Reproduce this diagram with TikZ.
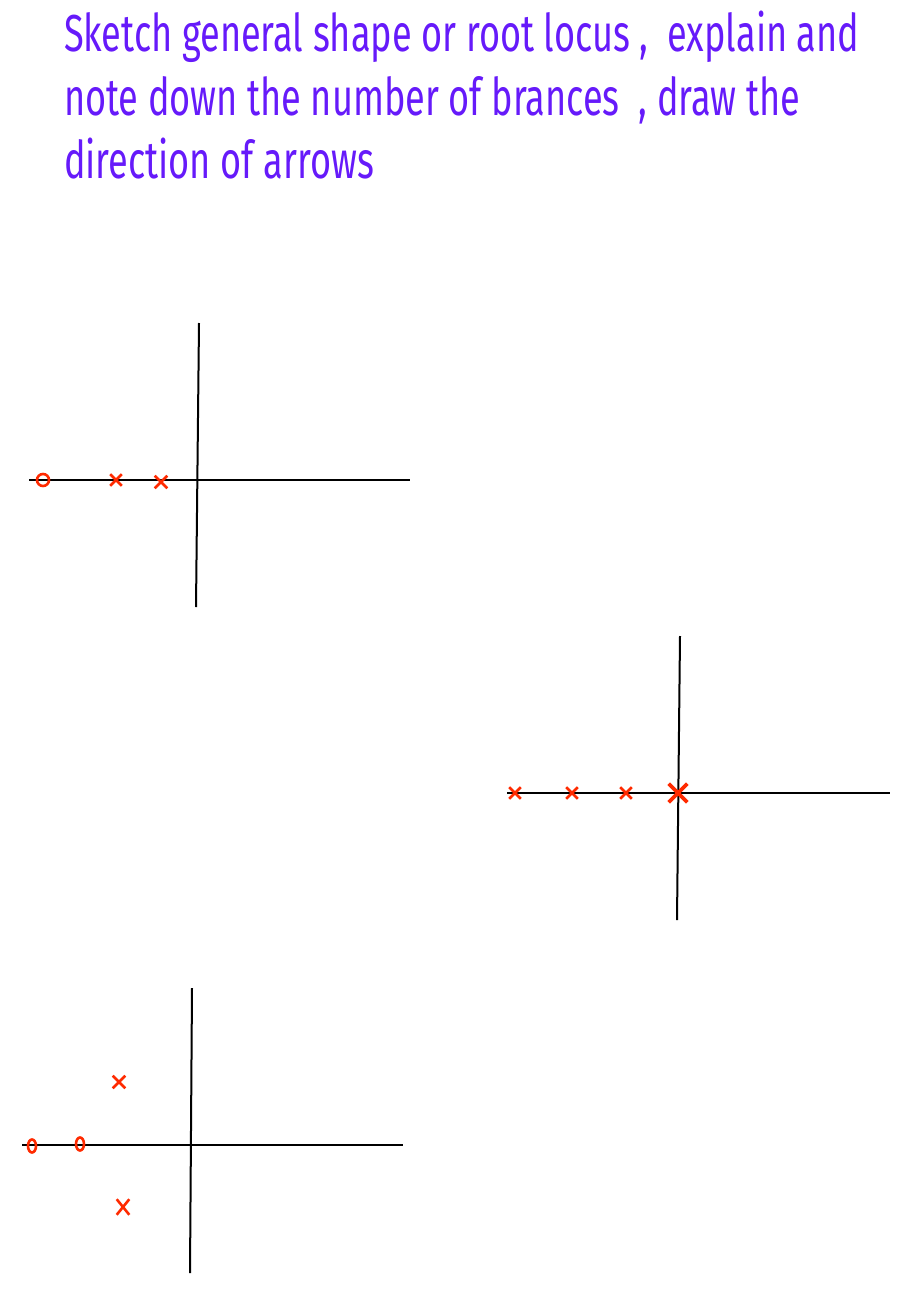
\documentclass[tikz,border=0pt]{standalone}
\usepackage{fontspec}
\setmainfont[FakeStretch=0.695]{Fira Sans}
\usetikzlibrary{shapes.misc,shapes.geometric}
\definecolor{titleviolet}{RGB}{102,26,250}
\definecolor{locusred}{RGB}{255,42,0}

\tikzset{every picture/.style={line width=2pt}}
\tikzset{
  axisline/.style={draw=black, line width=2pt},
  titleline/.style={anchor=base west, inner sep=0pt, text=titleviolet, font=\fontsize{52}{63}\selectfont},
  pole/.style={cross out, draw=locusred, line width=2.6pt, minimum size=9pt, inner sep=0pt},
  bigpole/.style={cross out, draw=locusred, line width=3.6pt, minimum size=15pt, inner sep=0pt},
  zero/.style={circle, draw=locusred, line width=2.6pt, minimum size=12pt, inner sep=0pt},
  slimzero/.style={ellipse, draw=locusred, line width=2.6pt, minimum width=8pt, minimum height=13pt, inner sep=0pt}
}

\begin{document}
\begin{tikzpicture}[x=1pt,y=1pt,yscale=-1,xscale=1]
\useasboundingbox (0,0) rectangle (920,1298);

% Text Node
\node (title1) [titleline] at (63,52) {Sketch general shape or root locus ,\ \ explain and};
% Text Node
\node (title2) [titleline] at (63,115) {note down the number of brances\ \ , draw the};
% Text Node
\node (title3) [titleline] at (63,178) {direction of arrows};

%Axes: first plane
\coordinate (reA) at (29,480);
\coordinate (reB) at (410,480);
\coordinate (imA) at (199,323);
\coordinate (imB) at (196,607);
\draw [axisline] (reA) -- (reB);
\draw [axisline] (imA) -- (imB);
%Poles and zero: first plane
\node (zA) [zero] at (43,480) {};
\node (pA) [pole] at (116,480) {};
\node (pB) [pole, minimum size=10pt] at (161,482) {};

%Axes: second plane
\coordinate (reC) at (507,793);
\coordinate (reD) at (890,793);
\coordinate (imC) at (680,636);
\coordinate (imD) at (677,920);
\draw [axisline] (reC) -- (reD);
\draw [axisline] (imC) -- (imD);
%Poles: second plane
\node (pC) [pole] at (515,793) {};
\node (pD) [pole] at (572,793) {};
\node (pE) [pole] at (626,793) {};
\node (pF) [bigpole] at (678,793) {};

%Axes: third plane
\coordinate (reE) at (22,1145);
\coordinate (reF) at (403,1145);
\coordinate (imE) at (192,988);
\coordinate (imF) at (190,1273);
\draw [axisline] (reE) -- (reF);
\draw [axisline] (imE) -- (imF);
%Poles and zeros: third plane
\node (pG) [pole, minimum size=10pt] at (119,1082) {};
\node (pH) [pole, minimum width=10pt, minimum height=13pt] at (123,1207) {};
\node (zB) [slimzero] at (32,1146) {};
\node (zC) [slimzero] at (80,1144) {};

\end{tikzpicture}
\end{document}
